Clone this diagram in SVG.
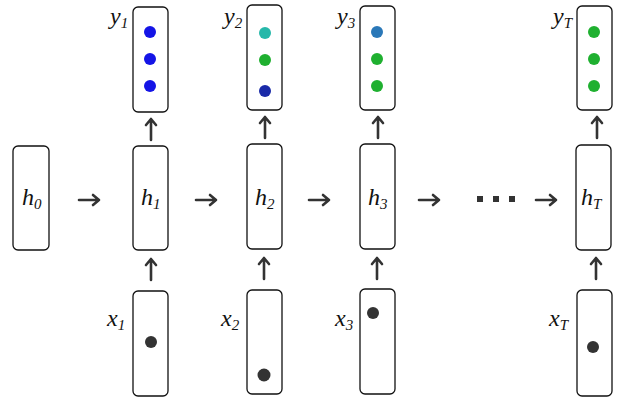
<svg xmlns="http://www.w3.org/2000/svg" width="626" height="405" viewBox="0 0 626 405" font-family="Liberation Serif, Times New Roman, DejaVu Serif, serif">
<style>
.b{fill:#fff;stroke:#111;stroke-width:1.3}
.t{font-family:"Liberation Serif",serif;font-style:italic;font-size:24px;fill:#111}
.s{font-size:15px}
.a{stroke:#333;stroke-width:2.6;fill:none;stroke-linecap:round;stroke-linejoin:round}
.d{fill:#333}
</style>
<rect width="626" height="405" fill="#fff"/>
<g id="h0"><rect class="b" x="13" y="146" width="36" height="104" rx="5"/><text class="t" x="22" y="205">h<tspan class="s" dy="4">0</tspan></text></g>
<g id="h1"><rect class="b" x="133" y="146" width="35" height="104" rx="5"/><text class="t" x="141" y="205">h<tspan class="s" dy="4">1</tspan></text></g>
<g id="h2"><rect class="b" x="247" y="144" width="35" height="105" rx="5"/><text class="t" x="255" y="205">h<tspan class="s" dy="4">2</tspan></text></g>
<g id="h3"><rect class="b" x="360" y="144" width="35" height="105" rx="5"/><text class="t" x="368" y="205">h<tspan class="s" dy="4">3</tspan></text></g>
<g id="hT"><rect class="b" x="576" y="145" width="35" height="105" rx="5"/><text class="t" x="581" y="205">h<tspan class="s" dy="4">T</tspan></text></g>
<g id="y1"><rect class="b" x="133" y="7" width="35" height="105" rx="5"/><text class="t" x="110" y="24">y<tspan class="s" dy="4">1</tspan></text>
<circle cx="150" cy="32" r="6" fill="#1414e6"/><circle cx="150" cy="59" r="6" fill="#1414e6"/><circle cx="150" cy="86" r="6" fill="#1414e6"/></g>
<g id="y2"><rect class="b" x="247" y="5" width="35" height="105" rx="5"/><text class="t" x="224" y="24">y<tspan class="s" dy="4">2</tspan></text>
<circle cx="265" cy="33" r="6" fill="#26b8aa"/><circle cx="265" cy="60" r="6" fill="#1fb030"/><circle cx="265" cy="91" r="6" fill="#1a2aa8"/></g>
<g id="y3"><rect class="b" x="360" y="6" width="35" height="104" rx="5"/><text class="t" x="337" y="24">y<tspan class="s" dy="4">3</tspan></text>
<circle cx="377" cy="32" r="6" fill="#2a78b8"/><circle cx="377" cy="59" r="6" fill="#1fb030"/><circle cx="377" cy="86" r="6" fill="#1fb030"/></g>
<g id="yT"><rect class="b" x="577" y="6" width="35" height="104" rx="5"/><text class="t" x="553" y="24">y<tspan class="s" dy="4">T</tspan></text>
<circle cx="594" cy="32" r="6" fill="#1fb030"/><circle cx="594" cy="59" r="6" fill="#1fb030"/><circle cx="594" cy="86" r="6" fill="#1fb030"/></g>
<g id="x1"><rect class="b" x="133" y="291" width="35" height="105" rx="5"/><text class="t" x="107" y="326">x<tspan class="s" dy="4">1</tspan></text><circle class="d" cx="151" cy="342" r="6"/></g>
<g id="x2"><rect class="b" x="247" y="290" width="35" height="104" rx="5"/><text class="t" x="221" y="326">x<tspan class="s" dy="4">2</tspan></text><circle class="d" cx="264" cy="375" r="6.5"/></g>
<g id="x3"><rect class="b" x="360" y="289" width="35" height="105" rx="5"/><text class="t" x="335" y="326">x<tspan class="s" dy="4">3</tspan></text><circle class="d" cx="373" cy="313" r="6"/></g>
<g id="xT"><rect class="b" x="577" y="290" width="35" height="106" rx="5"/><text class="t" x="549" y="326">x<tspan class="s" dy="4">T</tspan></text><circle class="d" cx="593" cy="347" r="6"/></g>
<g id="dots" class="d"><rect x="477" y="196" width="6" height="6"/><rect x="493" y="196" width="6" height="6"/><rect x="509" y="196" width="6" height="6"/></g>
<g id="connectors" class="a">
<path d="M79 200H99M93 195L99 200L93 205"/>
<path d="M196 200H216M210 195L216 200L210 205"/>
<path d="M309 200H329M323 195L329 200L323 205"/>
<path d="M419 200H439M433 195L439 200L433 205"/>
<path d="M536 200H556M550 195L556 200L550 205"/>
<path d="M151 140V119M146 125L151 119L156 125"/>
<path d="M265 138V117M260 123L265 117L270 123"/>
<path d="M378 138V117M373 123L378 117L383 123"/>
<path d="M597 138V117M592 123L597 117L602 123"/>
<path d="M151 280V259M146 265L151 259L156 265"/>
<path d="M264 279V258M259 264L264 258L269 264"/>
<path d="M377 279V258M372 264L377 258L382 264"/>
<path d="M596 279V258M591 264L596 258L601 264"/>
</g>
</svg>
